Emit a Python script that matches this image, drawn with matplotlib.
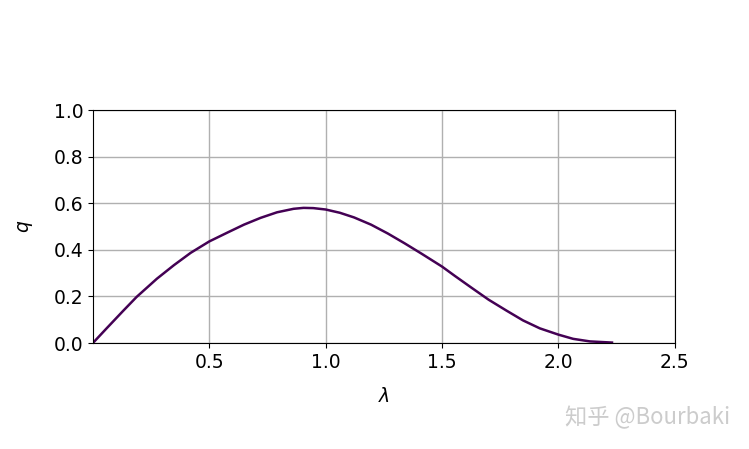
import matplotlib
matplotlib.use("Agg")
import matplotlib.pyplot as plt

lam = [0.0, 0.058, 0.13, 0.188, 0.275, 0.348, 0.42, 0.5, 0.578, 0.649, 0.72, 0.791,
       0.862, 0.905, 0.947, 1.0, 1.061, 1.122, 1.195, 1.267, 1.339, 1.411, 1.5, 1.555,
       1.627, 1.70, 1.777, 1.848, 1.92, 2.0, 2.063, 2.135, 2.23]
q = [0.0, 0.062, 0.138, 0.198, 0.276, 0.334, 0.387, 0.436, 0.474, 0.508, 0.537, 0.561,
     0.576, 0.580, 0.579, 0.573, 0.559, 0.539, 0.508, 0.470, 0.428, 0.384, 0.328, 0.288,
     0.237, 0.186, 0.139, 0.097, 0.063, 0.036, 0.018, 0.007, 0.002]
xticks = [0.5, 1.0, 1.5, 2.0, 2.5]
yticks = [0.0, 0.2, 0.4, 0.6, 0.8, 1.0]

plt.rcParams["font.size"] = 13.5
fig = plt.figure(figsize=(7.49, 4.49), dpi=100)
ax = fig.add_axes([0.124, 0.236, 0.777, 0.519])
ax.plot(lam, q, color="#440154", linewidth=1.8)
ax.set_xlim(0.0, 2.5)
ax.set_ylim(0.0, 1.0)
ax.set_xticks(xticks)
ax.set_yticks(yticks)
ax.tick_params(labelsize=13.5)
ax.grid(True, color="#b0b0b0", linewidth=1.0)
ax.set_axisbelow(True)
ax.set_xlabel(r"$\lambda$", fontsize=13.5, labelpad=11)
ax.set_ylabel(r"$q$", fontsize=13.5, labelpad=13)
fig.text(0.975, 0.07, "知乎 @Bourbaki", ha="right", va="center", fontsize=16,
         color="#cccccc", family=["Noto Sans CJK SC", "DejaVu Sans"])
fig.savefig("out.png", dpi=100)
